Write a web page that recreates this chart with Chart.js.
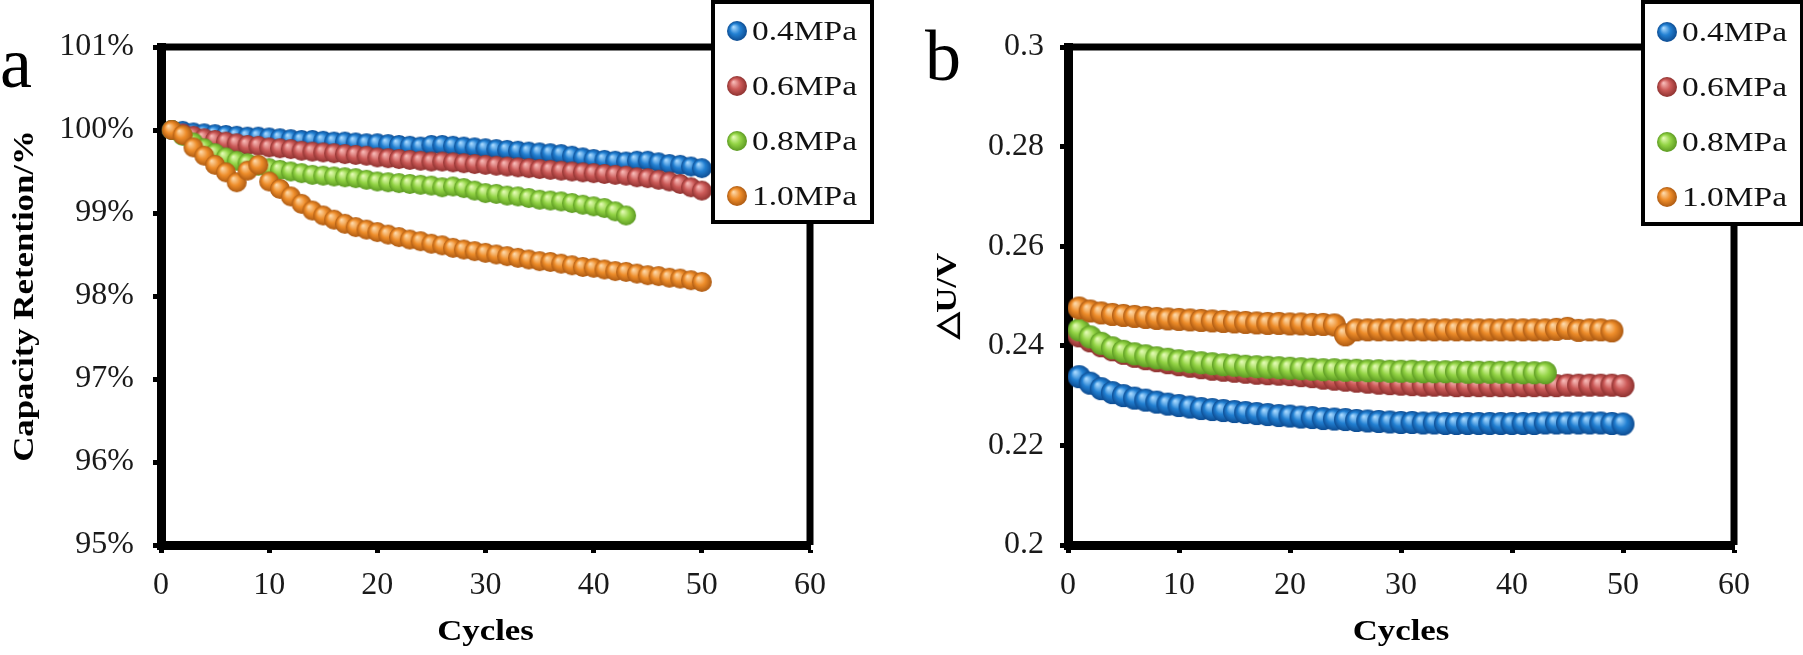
<!DOCTYPE html>
<html>
<head>
<meta charset="utf-8">
<script src="https://cdn.jsdelivr.net/npm/chart.js@4.4.1/dist/chart.umd.min.js"></script>
<style>
    html, body { margin: 0; padding: 0; background: #fff; }
    body { width: 1803px; height: 655px; position: relative; overflow: hidden; }
    canvas { position: absolute; top: 0; }
    #chartA { left: 0; }
    #chartB { left: 900px; }
    .panel { position: absolute; font-family: 'Liberation Serif', 'Times New Roman', serif; font-size: 72px; line-height: 1; color: #000; }
</style>
</head>
<body>
<canvas id="chartA" width="900" height="655"></canvas>
<canvas id="chartB" width="903" height="655"></canvas>
<div class="panel" style="left:0;top:27px">a</div>
<div class="panel" style="left:925px;top:20px">b</div>
<script>
(function() {
    'use strict';

    // ===== DATA =====
    const cycles = [1, 2, 3, 4, 5, 6, 7, 8, 9, 10, 11, 12, 13, 14, 15, 16, 17, 18, 19, 20,
        21, 22, 23, 24, 25, 26, 27, 28, 29, 30, 31, 32, 33, 34, 35, 36, 37, 38, 39, 40,
        41, 42, 43, 44, 45, 46, 47, 48, 49, 50];
    const seriesLabels = ['0.4MPa', '0.6MPa', '0.8MPa', '1.0MPa'];
    const xTickLabels = ['0', '10', '20', '30', '40', '50', '60'];
    const retentionTickLabels = ['95%', '96%', '97%', '98%', '99%', '100%', '101%'];
    const deltaTickLabels = ['0.2', '0.22', '0.24', '0.26', '0.28', '0.3'];

    // capacity retention, %
    const retention04 = [100.00, 99.99, 99.97, 99.96, 99.95, 99.94, 99.93, 99.92, 99.92, 99.91,
        99.90, 99.89, 99.88, 99.88, 99.87, 99.86, 99.86, 99.85, 99.84, 99.84,
        99.83, 99.82, 99.81, 99.80, 99.82, 99.82, 99.81, 99.80, 99.79, 99.78,
        99.77, 99.76, 99.75, 99.74, 99.73, 99.72, 99.71, 99.69, 99.67, 99.65,
        99.64, 99.63, 99.62, 99.63, 99.63, 99.61, 99.59, 99.58, 99.56, 99.54];
    const retention06 = [100.00, 99.96, 99.93, 99.90, 99.88, 99.86, 99.84, 99.82, 99.81, 99.79,
        99.78, 99.77, 99.75, 99.74, 99.73, 99.72, 99.71, 99.70, 99.69, 99.67,
        99.66, 99.65, 99.64, 99.63, 99.62, 99.62, 99.61, 99.60, 99.59, 99.58,
        99.57, 99.56, 99.55, 99.54, 99.53, 99.52, 99.51, 99.50, 99.49, 99.48,
        99.47, 99.46, 99.45, 99.43, 99.42, 99.40, 99.38, 99.35, 99.31, 99.27];
    const retention08 = [100.00, 99.93, 99.85, 99.78, 99.72, 99.67, 99.63, 99.60, 99.57, 99.54,
        99.52, 99.50, 99.48, 99.46, 99.45, 99.44, 99.43, 99.42, 99.40, 99.38,
        99.37, 99.36, 99.35, 99.34, 99.33, 99.31, 99.32, 99.30, 99.27, 99.24,
        99.23, 99.21, 99.20, 99.18, 99.16, 99.15, 99.14, 99.12, 99.10, 99.08,
        99.06, 99.02, 98.97];
    const retention10 = [100.00, 99.94, 99.79, 99.69, 99.58, 99.49, 99.37, 99.51, 99.58, 99.38,
        99.29, 99.20, 99.11, 99.03, 98.97, 98.92, 98.87, 98.83, 98.80, 98.77,
        98.74, 98.71, 98.68, 98.66, 98.63, 98.61, 98.58, 98.56, 98.54, 98.52,
        98.50, 98.48, 98.46, 98.44, 98.42, 98.41, 98.39, 98.37, 98.35, 98.34,
        98.32, 98.30, 98.29, 98.27, 98.25, 98.24, 98.22, 98.21, 98.19, 98.17];

    // delta U / V
    const delta04 = [0.2338, 0.2325, 0.2314, 0.2306, 0.2300, 0.2295, 0.2291, 0.2287, 0.2283, 0.2280,
        0.2277, 0.2274, 0.2272, 0.2270, 0.2268, 0.2266, 0.2264, 0.2262, 0.2260, 0.2259,
        0.2257, 0.2256, 0.2254, 0.2253, 0.2252, 0.2250, 0.2249, 0.2248, 0.2247, 0.2246,
        0.2246, 0.2245, 0.2245, 0.2244, 0.2244, 0.2244, 0.2244, 0.2244, 0.2244, 0.2244,
        0.2244, 0.2244, 0.2245, 0.2245, 0.2245, 0.2245, 0.2245, 0.2245, 0.2244, 0.2243];
    const delta06 = [0.2420, 0.2410, 0.2400, 0.2392, 0.2385, 0.2379, 0.2374, 0.2370, 0.2366, 0.2362,
        0.2359, 0.2356, 0.2353, 0.2351, 0.2349, 0.2347, 0.2345, 0.2344, 0.2343, 0.2342,
        0.2340, 0.2338, 0.2335, 0.2333, 0.2331, 0.2329, 0.2327, 0.2325, 0.2324, 0.2323,
        0.2322, 0.2321, 0.2321, 0.2321, 0.2320, 0.2320, 0.2320, 0.2320, 0.2320, 0.2320,
        0.2320, 0.2320, 0.2320, 0.2320, 0.2321, 0.2321, 0.2321, 0.2321, 0.2321, 0.2320];
    const delta08 = [0.2432, 0.2418, 0.2405, 0.2396, 0.2389, 0.2384, 0.2380, 0.2376, 0.2373, 0.2370,
        0.2368, 0.2366, 0.2364, 0.2362, 0.2361, 0.2359, 0.2358, 0.2357, 0.2356, 0.2355,
        0.2354, 0.2353, 0.2352, 0.2352, 0.2351, 0.2351, 0.2350, 0.2350, 0.2349, 0.2349,
        0.2349, 0.2348, 0.2348, 0.2348, 0.2348, 0.2347, 0.2347, 0.2347, 0.2347, 0.2347,
        0.2346, 0.2346, 0.2346];
    const delta10 = [0.2476, 0.2470, 0.2466, 0.2463, 0.2461, 0.2459, 0.2457, 0.2455, 0.2454, 0.2453,
        0.2452, 0.2451, 0.2450, 0.2449, 0.2448, 0.2447, 0.2446, 0.2445, 0.2445, 0.2444,
        0.2444, 0.2443, 0.2443, 0.2442, 0.2422, 0.2432, 0.2432, 0.2432, 0.2432, 0.2432,
        0.2432, 0.2432, 0.2432, 0.2432, 0.2432, 0.2432, 0.2432, 0.2432, 0.2432, 0.2432,
        0.2432, 0.2432, 0.2432, 0.2433, 0.2435, 0.2431, 0.2432, 0.2432, 0.2430];

    // ===== STYLE =====
    const SERIF = "'Liberation Serif', 'Times New Roman', serif";
    // highlight, body, rim for each glossy ball
    const ballColors = [
        ['#a6d8ff', '#2280d2', '#0d4c92'],
        ['#f6b8b5', '#cc5a58', '#8e3230'],
        ['#e2fab2', '#93d445', '#5c9a22'],
        ['#fdd7a6', '#ee8d2a', '#ad5a12']
    ];

    function makeBall(colors, r) {
        const size = Math.ceil(r * 2) + 2;
        const c = document.createElement('canvas');
        c.width = size;
        c.height = size;
        const g = c.getContext('2d');
        const m = size / 2;
        const grad = g.createRadialGradient(m - r * 0.35, m - r * 0.4, r * 0.05, m, m, r);
        grad.addColorStop(0, colors[0]);
        grad.addColorStop(0.5, colors[1]);
        grad.addColorStop(1, colors[2]);
        g.fillStyle = grad;
        g.beginPath();
        g.arc(m, m, r, 0, Math.PI * 2);
        g.fill();
        return c;
    }

    function pairs(values) {
        return values.map((v, i) => ({ x: cycles[i], y: v }));
    }

    // titles in the figure are wider than the font, so stretch them along the line
    function stretchedText(ctx, text, x, y, font, angle, stretch) {
        ctx.save();
        ctx.translate(x, y);
        ctx.rotate(angle);
        ctx.scale(stretch, 1);
        ctx.font = font;
        ctx.fillStyle = '#000';
        ctx.textAlign = 'center';
        ctx.textBaseline = 'middle';
        ctx.fillText(text, 0, 0);
        ctx.restore();
    }

    // ===== FRAME, TITLES, LEGEND =====
    const framePlugin = {
        id: 'frame',
        afterDraw(chart, args, opts) {
            const ctx = chart.ctx;
            const a = chart.chartArea;

            ctx.save();
            ctx.strokeStyle = '#000';
            ctx.lineWidth = 7;
            ctx.beginPath();
            ctx.moveTo(a.left - 4, a.top);
            ctx.lineTo(a.right, a.top);
            ctx.lineTo(a.right, a.bottom);
            ctx.stroke();
            ctx.restore();

            stretchedText(ctx, 'Cycles', (a.left + a.right) / 2, opts.xTitleY,
                'bold 29px ' + SERIF, 0, 1.2);
            stretchedText(ctx, opts.yTitle, opts.yTitleX, (a.top + a.bottom) / 2,
                'bold 29px ' + SERIF, -Math.PI / 2, 1.2);

            // legend box sits over the top right corner of the frame
            const lg = opts.legend;
            ctx.save();
            ctx.fillStyle = '#fff';
            ctx.fillRect(lg.x, lg.y, lg.w, lg.h);
            ctx.strokeStyle = '#000';
            ctx.lineWidth = 4;
            ctx.strokeRect(lg.x, lg.y, lg.w, lg.h);
            seriesLabels.forEach((label, i) => {
                const cy = lg.firstRow + i * lg.rowGap;
                const ball = makeBall(ballColors[i], 10);
                ctx.drawImage(ball, lg.ballX - ball.width / 2, cy - ball.height / 2);
                ctx.save();
                ctx.translate(lg.ballX + 15, cy + 9);
                ctx.scale(1.24, 1);
                ctx.font = '27px ' + SERIF;
                ctx.fillStyle = '#111';
                ctx.textAlign = 'left';
                ctx.textBaseline = 'alphabetic';
                ctx.fillText(label, 0, 0);
                ctx.restore();
            });
            ctx.restore();
        }
    };

    // ===== CHART BUILDER =====
    function buildChart(id, cfg) {
        const series = cfg.series;
        const datasets = series.map((values, i) => ({
            label: seriesLabels[i],
            data: pairs(values),
            showLine: false,
            pointStyle: makeBall(ballColors[i], cfg.ballRadius),
            pointRadius: cfg.ballRadius,
            order: 4 - i
        }));

        const axisLine = { color: '#000', width: 9 };
        const tickGrid = {
            drawOnChartArea: false,
            drawTicks: true,
            tickLength: 8,
            tickWidth: 5,
            tickColor: '#000'
        };

        return new Chart(document.getElementById(id), {
            type: 'scatter',
            data: { datasets: datasets },
            plugins: [framePlugin],
            options: {
                responsive: false,
                animation: false,
                events: [],
                layout: { padding: { top: 47, right: cfg.padRight, bottom: 0, left: 0 } },
                plugins: {
                    legend: { display: false },
                    tooltip: { enabled: false },
                    frame: {
                        xTitleY: 633,
                        yTitle: cfg.yTitle,
                        yTitleX: cfg.yTitleX,
                        legend: cfg.legend
                    }
                },
                scales: {
                    x: {
                        type: 'linear',
                        min: 0,
                        max: 60,
                        afterFit: function(scale) { scale.height = 110; },
                        border: axisLine,
                        grid: tickGrid,
                        ticks: {
                            stepSize: 10,
                            padding: 13,
                            color: '#1a1a1a',
                            font: { family: SERIF, size: 32 },
                            callback: function(value, index) { return xTickLabels[index]; }
                        }
                    },
                    y: {
                        type: 'linear',
                        min: cfg.yMin,
                        max: cfg.yMax,
                        afterFit: function(scale) { scale.width = cfg.yWidth; },
                        border: axisLine,
                        grid: tickGrid,
                        ticks: {
                            stepSize: cfg.yStep,
                            padding: cfg.yPad,
                            color: '#1a1a1a',
                            font: { family: SERIF, size: 32 },
                            callback: function(value, index) { return cfg.yLabels[index]; }
                        }
                    }
                }
            }
        });
    }

    function drawAll() {
        buildChart('chartA', {
            series: [retention04, retention06, retention08, retention10],
            ballRadius: 10,
            yMin: 95, yMax: 101, yStep: 1,
            yLabels: retentionTickLabels,
            yWidth: 161, yPad: 19, padRight: 90,
            yTitle: 'Capacity Retention/%', yTitleX: 26,
            legend: { x: 713, y: 2, w: 159, h: 220, ballX: 737, firstRow: 31, rowGap: 55 }
        });

        buildChart('chartB', {
            series: [delta04, delta06, delta08, delta10],
            ballRadius: 11.5,
            yMin: 0.2, yMax: 0.3, yStep: 0.02,
            yLabels: deltaTickLabels,
            yWidth: 168, yPad: 16, padRight: 69,
            yTitle: '\u25B3U/V', yTitleX: 49,
            legend: { x: 743, y: 2, w: 159, h: 222, ballX: 767, firstRow: 32, rowGap: 55 }
        });
    }

    // the serif face has to be loaded before the canvas can use it
    const fontLoads = document.fonts ? Promise.all([
        document.fonts.load('32px "Liberation Serif"'),
        document.fonts.load('bold 29px "Liberation Serif"')
    ]) : Promise.resolve();
    fontLoads.then(drawAll, drawAll);
})();
</script>
</body>
</html>
